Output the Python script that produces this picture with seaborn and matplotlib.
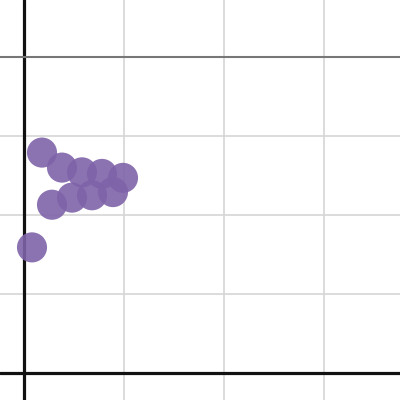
import numpy as np
import pandas as pd
import seaborn as sns
import matplotlib.pyplot as plt

# Point positions (grid units)
x_vals = [0.18, 0.38, 0.58, 0.78, 0.99, 0.28, 0.48, 0.68, 0.89, 0.08]
y_vals = [2.79, 2.60, 2.54, 2.52, 2.47, 2.13, 2.22, 2.25, 2.29, 1.59]
ref_line_y = 4.0
grid_x = [1, 2, 3]
grid_y = [1, 2, 3]

df = pd.DataFrame({"x": x_vals, "y": y_vals})

sns.set_style("white")
fig = plt.figure(figsize=(4, 4), dpi=100)
ax = fig.add_axes([0, 0, 1, 1])

# Grid lines
for gx in grid_x:
    ax.axvline(gx, color="#d6d6d6", lw=1.2, zorder=0)
for gy in grid_y:
    ax.axhline(gy, color="#d6d6d6", lw=1.2, zorder=0)

# Axes through the origin
ax.axvline(0, color="#111111", lw=2.3, zorder=1)
ax.axhline(0, color="#111111", lw=2.3, zorder=1)

# Horizontal reference line
ax.axhline(ref_line_y, color="#777777", lw=1.5, zorder=1)

sns.scatterplot(data=df, x="x", y="y", ax=ax, s=470, color="#7f63a9",
                alpha=0.9, edgecolor="none", zorder=3, legend=False)

ax.set_xlim(-0.24, 3.76)
ax.set_ylim(-27 / 79, 373 / 79)
ax.set_xticks([])
ax.set_yticks([])
ax.set_xlabel("")
ax.set_ylabel("")
for sp in ax.spines.values():
    sp.set_visible(False)

fig.savefig("out.png", dpi=100)
